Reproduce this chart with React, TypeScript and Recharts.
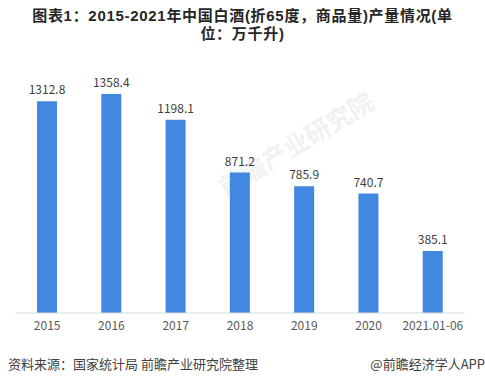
import { Bar, BarChart, LabelList, XAxis, YAxis } from "recharts";

const years = ["2015", "2016", "2017", "2018", "2019", "2020", "2021.01-06"];
const output = [1312.8, 1358.4, 1198.1, 871.2, 785.9, 740.7, 385.1];

const data = years.map((year, i) => ({ year, output: output[i] }));

const font = "'Noto Sans CJK SC', 'Noto Sans', sans-serif";
const titleFont = "'Liberation Sans', 'Noto Sans CJK SC', sans-serif";

const App = () => {
  return (
    <div
      style={{
        position: "absolute",
        top: 0,
        left: 0,
        width: 485,
        height: 384,
        background: "#fff",
        fontFamily: font,
      }}
    >
      <div
        style={{
          position: "absolute",
          top: 7,
          left: 0,
          width: 485,
          textAlign: "center",
          fontFamily: titleFont,
          fontSize: 15,
          fontWeight: "bold",
          lineHeight: "18px",
          color: "#262626",
          letterSpacing: 0.7,
        }}
      >
        <div>图表1：2015-2021年中国白酒(折65度，商品量)产量情况(单</div>
        <div>位：万千升)</div>
      </div>

      <BarChart
        width={485}
        height={384}
        data={data}
        margin={{ top: 55, right: 20, left: 15, bottom: 41 }}
        style={{ position: "absolute", top: 0, left: 0 }}
      >
        <text
          x={301}
          y={152}
          textAnchor="middle"
          fontSize={25}
          fontWeight="bold"
          fill="#eff2f5"
          transform="rotate(-31 301 152)"
          fontFamily={font}
        >
          前瞻产业研究院
        </text>
        <XAxis
          dataKey="year"
          height={30}
          tickLine={false}
          axisLine={{ stroke: "#d9d9d9" }}
          tick={{ fill: "#595959", fontSize: 12, fontFamily: font }}
          interval={0}
        />
        <YAxis hide domain={[0, 1600]} />
        <Bar dataKey="output" fill="#4287e0" barSize={20} isAnimationActive={false}>
          <LabelList
            dataKey="output"
            position="top"
            offset={7}
            fill="#404040"
            fontSize={12}
            fontFamily={font}
          />
        </Bar>
      </BarChart>

      <div
        style={{
          position: "absolute",
          top: 354,
          left: 8,
          fontSize: 13,
          color: "#404040",
          whiteSpace: "nowrap",
        }}
      >
        资料来源：国家统计局 前瞻产业研究院整理
      </div>
      <div
        style={{
          position: "absolute",
          top: 354,
          right: 0,
          fontSize: 13,
          color: "#404040",
          whiteSpace: "nowrap",
        }}
      >
        @前瞻经济学人APP
      </div>
    </div>
  );
};

export default App;
